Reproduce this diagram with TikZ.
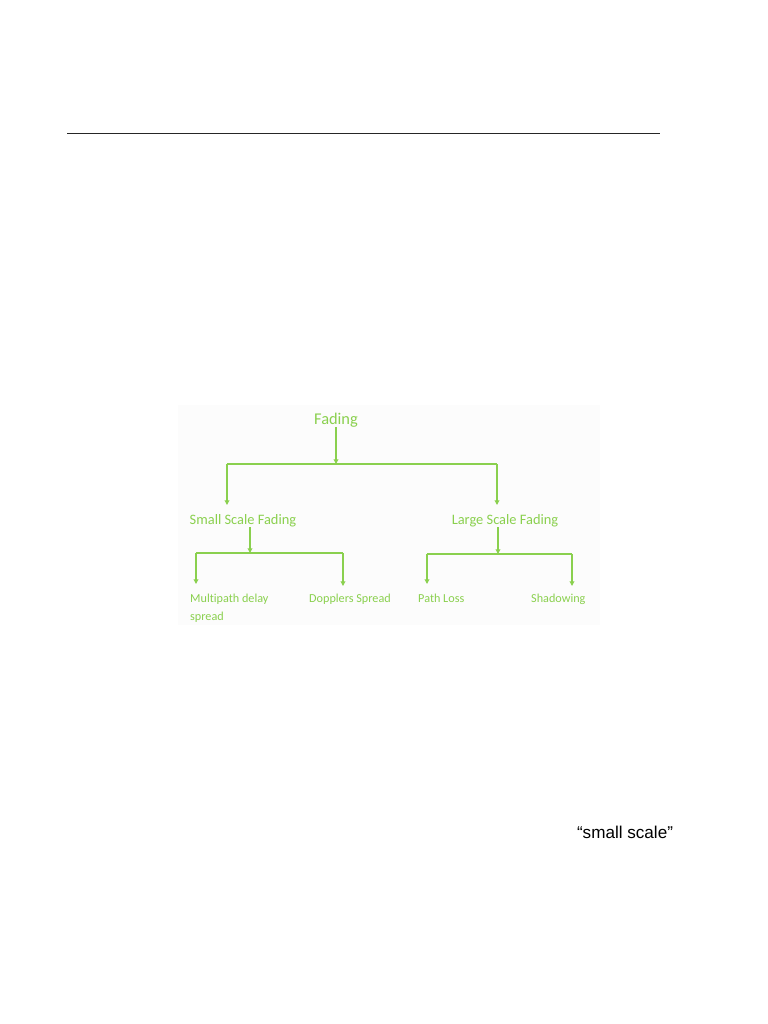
\documentclass[tikz,border=0pt]{standalone}
\usepackage{fontspec}
\setmainfont{Carlito}[Ligatures=NoCommon]
\newfontfamily\arialfont{Liberation Sans}
\usetikzlibrary{arrows.meta}
\definecolor{fadegreen}{RGB}{138,208,78}

\tikzset{
  lbl/.style={text=fadegreen, inner sep=0pt, font=\fontsize{12.3}{14}\selectfont},
  leaf/.style={lbl, anchor=north west, font=\fontsize{10.4}{15.5}\selectfont, align=left},
  link/.style={draw=fadegreen, line width=1.3pt},
  arr/.style={link, -{Triangle[length=4pt,width=4pt]}}
}

\begin{document}
\begin{tikzpicture}[x=0.03cm,y=-0.03cm]
\useasboundingbox (0,0) rectangle (768,1024);
\fill[white] (0,0) rectangle (768,1024);
% rule at the top of the page
\draw[black!85, line width=0.6pt] (67,133) -- (660,133);
% faint background of the pasted figure
\fill[black!1.2] (178,405) rectangle (600,625);

\node[lbl, font=\fontsize{14}{16}\selectfont] (fading) at (336,420) {Fading};
\node[lbl] (small) at (243,521) {Small Scale Fading};
\node[lbl] (large) at (505,521) {Large Scale Fading};

\node[leaf] (multi) at (190,594) {Multipath delay\\spread};
\node[leaf] (doppler) at (309,594) {Dopplers Spread};
\node[leaf] (path) at (418,594) {Path Loss};
\node[leaf] (shadow) at (531,594) {Shadowing};

% first level
\coordinate (j0) at (336,464);
\coordinate (j0l) at (227,464);
\coordinate (j0r) at (497,464);
\coordinate (e0l) at (227,505);
\coordinate (e0r) at (497,505);
\draw[arr] (fading) -- (j0);
\draw[link] (j0l) -- (j0r);
\draw[arr] (j0l) -- (e0l);
\draw[arr] (j0r) -- (e0r);

% small scale branch
\coordinate (j1) at (250,553);
\coordinate (j1l) at (196,553);
\coordinate (j1r) at (343,553);
\draw[arr] (small.south -| j1) -- (j1);
\draw[link] (j1l) -- (j1r);
\draw[arr] (j1l) -- (196,584);
\draw[arr] (j1r) -- (343,586);

% large scale branch
\coordinate (j2) at (498,554);
\coordinate (j2l) at (427,554);
\coordinate (j2r) at (572,554);
\draw[arr] (large.south -| j2) -- (j2);
\draw[link] (j2l) -- (j2r);
\draw[arr] (j2l) -- (427,584);
\draw[arr] (j2r) -- (572,586);

\node[font=\arialfont\fontsize{14.6}{16}\selectfont, inner sep=0pt] (quote) at (625,832) {“small scale”};
\end{tikzpicture}
\end{document}
